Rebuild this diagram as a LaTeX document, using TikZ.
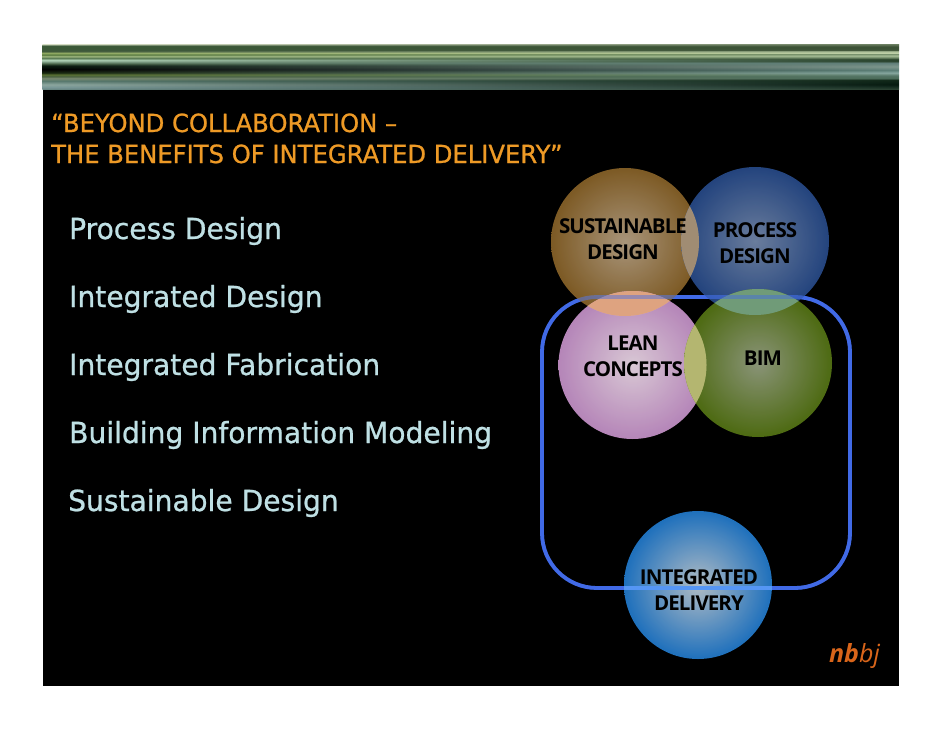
\documentclass[tikz,border=0pt]{standalone}
\usepackage{fontspec}
\usetikzlibrary{fadings}
\setmainfont{DejaVu Sans}
\newfontfamily\titlefont[FakeStretch=0.97,FakeBold=0.9]{DejaVu Sans}
\newfontfamily\bodyfont[FakeStretch=0.97,FakeBold=0.8]{DejaVu Sans}
\newfontfamily\discfont[LetterSpace=-4.5]{Open Sans}
\newfontfamily\logofont{Open Sans}
\definecolor{slidetitle}{HTML}{EE9A26}
\definecolor{slidebody}{HTML}{BFE0E4}
\definecolor{framecol}{HTML}{416AE6}
\definecolor{logocol}{HTML}{D9651A}
% band stops run bottom to top, 25bp to 75bp is the strip itself
\pgfdeclareverticalshading{bandleft}{100bp}{
  rgb(0bp)=(.16,.25,.19); rgb(25bp)=(.16,.25,.19);
  rgb(27bp)=(.10,.19,.14); rgb(30bp)=(.02,.10,.06);
  rgb(35bp)=(.07,.16,.10); rgb(37bp)=(.29,.42,.35);
  rgb(40bp)=(.34,.47,.41); rgb(43bp)=(.53,.66,.63);
  rgb(46bp)=(.36,.50,.47); rgb(50bp)=(.50,.60,.56);
  rgb(54bp)=(.38,.50,.48); rgb(56bp)=(.17,.27,.19);
  rgb(58bp)=(.15,.25,.16); rgb(60bp)=(.44,.54,.41);
  rgb(62bp)=(.66,.75,.60); rgb(64bp)=(.46,.56,.42);
  rgb(65bp)=(.75,.82,.66); rgb(67bp)=(.68,.75,.60);
  rgb(68bp)=(.27,.35,.24); rgb(70bp)=(.24,.32,.21);
  rgb(72bp)=(.24,.32,.21); rgb(75bp)=(.42,.50,.38);
  rgb(100bp)=(.42,.50,.38)}
\pgfdeclareverticalshading{bandright}{100bp}{
  rgb(0bp)=(.42,.54,.53); rgb(25bp)=(.42,.54,.53);
  rgb(27bp)=(.48,.60,.60); rgb(30bp)=(.56,.66,.63);
  rgb(34bp)=(.35,.48,.44); rgb(37bp)=(.48,.54,.44);
  rgb(39bp)=(.29,.38,.25); rgb(41bp)=(.35,.44,.19);
  rgb(43bp)=(.10,.16,.06); rgb(47bp)=(0,0,0);
  rgb(51bp)=(.04,.10,.06); rgb(53bp)=(.25,.35,.25);
  rgb(55bp)=(.48,.60,.50); rgb(57bp)=(.72,.85,.75);
  rgb(60bp)=(.29,.42,.25); rgb(61bp)=(.69,.78,.56);
  rgb(63bp)=(.35,.48,.25); rgb(65bp)=(.56,.66,.38);
  rgb(67bp)=(.25,.35,.23); rgb(70bp)=(.23,.35,.22);
  rgb(73bp)=(.23,.35,.22); rgb(75bp)=(.85,.88,.78);
  rgb(100bp)=(.85,.88,.78)}
\tikzset{
  heading/.style={anchor=base west,inner sep=0pt,text=slidetitle,font=\titlefont\fontsize{25}{25}\selectfont},
  topic/.style={anchor=base west,inner sep=0pt,text=slidebody,font=\bodyfont\fontsize{29}{29}\selectfont},
  disc/.style={circle,minimum size=148pt,inner sep=0pt,fill opacity=.85,shading=radial},
  disctext/.style={inner sep=0pt,align=center,text=black,font=\discfont\bfseries\fontsize{20.5}{25.5}\selectfont},
  frameline/.style={rounded corners=55pt,line width=3.8pt,draw=framecol},
}
\begin{document}
\begin{tikzpicture}[x=1pt,y=-1pt]
  \useasboundingbox (0,0) rectangle (942,728);
  \fill[black] (43,44) rectangle (899,686);
  % Band
  \path[shading=bandleft] (43,44) rectangle (899,89);
  \path[shading=bandright,path fading=east] (43,44) rectangle (899,89);
  % Title and list
  \node[heading] (title1) at (51,132) {“BEYOND COLLABORATION –};
  \node[heading] (title2) at (51,163) {THE BENEFITS OF INTEGRATED DELIVERY”};
  \node[topic] (item1) at (69,239) {Process Design};
  \node[topic] (item2) at (69,307) {Integrated Design};
  \node[topic] (item3) at (69,375) {Integrated Fabrication};
  \node[topic] (item4) at (69,443) {Building Information Modeling};
  \node[topic] (item5) at (68,511) {Sustainable Design};
  % Frame
  \draw[frameline] (542,297) rectangle (850,588);
  % Circles
  \node[disc,inner color={rgb,255:red,198;green,175;blue,144},outer color={rgb,255:red,147;green,106;blue,43}] (sust) at (625,242) {};
  \node[disc,inner color={rgb,255:red,125;green,147;blue,184},outer color={rgb,255:red,42;green,80;blue,148}] (proc) at (755,241) {};
  \node[disc,inner color={rgb,255:red,255;green,235;blue,250},outer color={rgb,255:red,213;green,157;blue,217}] (lean) at (632.5,365) {};
  \node[disc,inner color={rgb,255:red,162;green,174;blue,141},outer color={rgb,255:red,91;green,125;blue,21}] (bim) at (758,363) {};
  \node[disc,inner color={rgb,255:red,207;green,221;blue,231},outer color={rgb,255:red,36;green,132;blue,222}] (intd) at (698,585) {};
  % Overlaps
  \begin{scope}
    \clip (625,242) circle (74);
    \fill[fill={rgb,255:red,160;green,140;blue,115}] (755,241) circle (74);
  \end{scope}
  \begin{scope}
    \clip (625,242) circle (74);
    \fill[fill={rgb,255:red,222;green,163;blue,128}] (632.5,365) circle (74);
  \end{scope}
  \begin{scope}
    \clip (755,241) circle (74);
    \fill[fill={rgb,255:red,112;green,155;blue,120}] (758,363) circle (74);
  \end{scope}
  \begin{scope}
    \clip (632.5,365) circle (74);
    \fill[fill={rgb,255:red,180;green,182;blue,112}] (758,363) circle (74);
  \end{scope}
  \draw[frameline,draw opacity=.45] (542,297) rectangle (850,588);
  \begin{scope}
    \clip (698,585) circle (74);
    \draw[frameline,draw={rgb,255:red,85;green,150;blue,245}] (542,297) rectangle (850,588);
  \end{scope}
  % Labels
  \node[disctext] (sustlabel) at (623,239) {SUSTAINABLE\\DESIGN};
  \node[disctext] (proclabel) at (755,243) {PROCESS\\DESIGN};
  \node[disctext] (leanlabel) at (633,356) {LEAN\\CONCEPTS};
  \node[disctext] (bimlabel) at (763,358) {BIM};
  \node[disctext] (intdlabel) at (699,590) {INTEGRATED\\DELIVERY};
  \node[anchor=base east,inner sep=0pt,text=logocol,font=\logofont\itshape\fontsize{25}{25}\selectfont] (logo) at (880,662) {{\bfseries nb}bj};
\end{tikzpicture}
\end{document}
